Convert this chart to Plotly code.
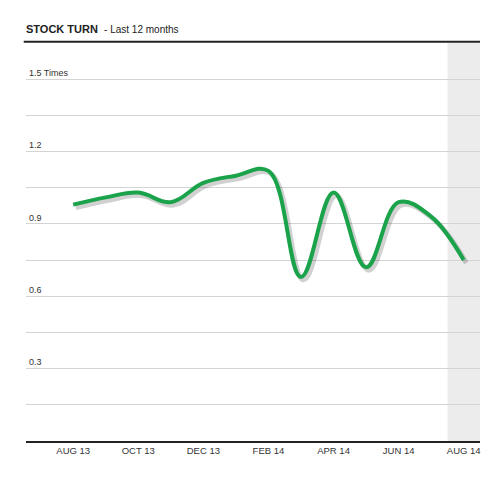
import plotly.graph_objects as go

# Data
months = ["AUG 13", "SEP 13", "OCT 13", "NOV 13", "DEC 13", "JAN 14", "FEB 14",
          "MAR 14", "APR 14", "MAY 14", "JUN 14", "JUL 14", "AUG 14"]
stock_turn = [0.98, 1.01, 1.03, 0.99, 1.07, 1.10, 1.12, 0.68, 1.03, 0.72, 0.99, 0.93, 0.75]
tick_months = ["AUG 13", "OCT 13", "DEC 13", "FEB 14", "APR 14", "JUN 14", "AUG 14"]
y_labels = ["", "0.3", "", "0.6", "", "0.9", "", "1.2", "", "1.5 Times"]

idx = list(range(len(months)))

fig = go.Figure()
# soft shadow under the line
fig.add_trace(go.Scatter(x=[i + 0.08 for i in idx], y=[v - 0.012 for v in stock_turn],
                         mode="lines", line=dict(color="rgba(0,0,0,0.18)", width=5, shape="spline", smoothing=1.1),
                         hoverinfo="skip", showlegend=False))
fig.add_trace(go.Scatter(x=idx, y=stock_turn, mode="lines",
                         line=dict(color="#1aa34a", width=4, shape="spline", smoothing=1.1),
                         showlegend=False))

fig.update_layout(
    width=500, height=483,
    margin=dict(l=18, r=28, t=35, b=50),
    paper_bgcolor="white", plot_bgcolor="rgba(0,0,0,0)",
    font=dict(family="Liberation Sans, Arial", size=10, color="#333"),
    xaxis=dict(range=[-1.45, 12.5], tickvals=[months.index(m) for m in tick_months],
               ticktext=tick_months, showgrid=False, zeroline=False,
               showline=True, linecolor="#222", linewidth=1.5,
               ticks="outside", ticklen=0, tickfont=dict(size=9.5, color="#333")),
    yaxis=dict(range=[0, 1.65], tickvals=[0.15 * k for k in range(1, 11)],
               ticktext=y_labels,
               showgrid=True, gridcolor="#d4d4d4", gridwidth=1, zeroline=False,
               ticklabelposition="inside top", ticks="", showticklabels=True,
               tickfont=dict(size=9, color="#333")),
    annotations=[dict(x=0, y=1, xref="paper", yref="paper", xanchor="left", yanchor="bottom",
                      xshift=-2, yshift=6, showarrow=False,
                      text="<b>STOCK TURN</b>  <span style='font-size:10px'>- Last 12 months</span>",
                      font=dict(size=11, color="#222"))],
    shapes=[dict(type="rect", xref="x", yref="paper", x0=11.5, x1=12.5, y0=0, y1=1,
                 fillcolor="#ececec", line_width=0, layer="below"),
            dict(type="line", xref="paper", yref="paper", x0=-0.005, x1=1.0, y0=1.003, y1=1.003,
                 line=dict(color="#222", width=2))],
)

fig.write_html("out.html")
